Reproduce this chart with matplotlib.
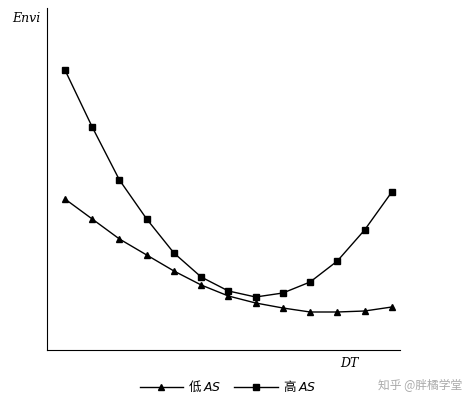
import matplotlib
matplotlib.use("Agg")
import matplotlib.pyplot as plt
from matplotlib.lines import Line2D

plt.rcParams['font.family'] = ['Noto Sans CJK SC', 'DejaVu Sans']

dt = list(range(13))
high_as = [280, 223, 170, 131, 97, 73, 59, 53, 57, 68, 89, 120, 158]
low_as = [151, 131, 111, 95, 79, 65, 54, 47, 42, 38, 38, 39, 43]

W, H = 474, 401
fig = plt.figure(figsize=(W/100, H/100), dpi=100)
ax = fig.add_axes([47/W, (H-350)/H, (400-47)/W, (350-8)/H])
ax.plot(dt, high_as, color='black', lw=1.0, marker='s', ms=4.5)
ax.plot(dt, low_as, color='black', lw=1.0, marker='^', ms=4.5)
ax.set_xlim(-0.66, 12.3)
ax.set_ylim(0, 342)
for s in ['top', 'right']:
    ax.spines[s].set_visible(False)
ax.set_xticks([]); ax.set_yticks([])
fig.text(12/W, 1-22/H, 'Envi', style='italic', fontsize=9, family='DejaVu Serif')
fig.text(340/W, 1-367/H, 'DT', style='italic', fontsize=9, family='DejaVu Serif')

h1 = Line2D([], [], color='black', lw=1, marker='^', ms=4.5)
h2 = Line2D([], [], color='black', lw=1, marker='s', ms=4.5)
fig.legend([h1, h2], ['低 $AS$', '高 $AS$'], loc='center', bbox_to_anchor=(228/W, 1-386/H),
           ncol=2, frameon=False, fontsize=9, handlelength=3.5, columnspacing=1.0,
           handletextpad=0.4)
fig.text(420/W, 1-386/H, '知乎 @胖橘学堂', fontsize=8.5, color='#aaaaaa', ha='center', va='center')
fig.savefig('out.png', dpi=100)
